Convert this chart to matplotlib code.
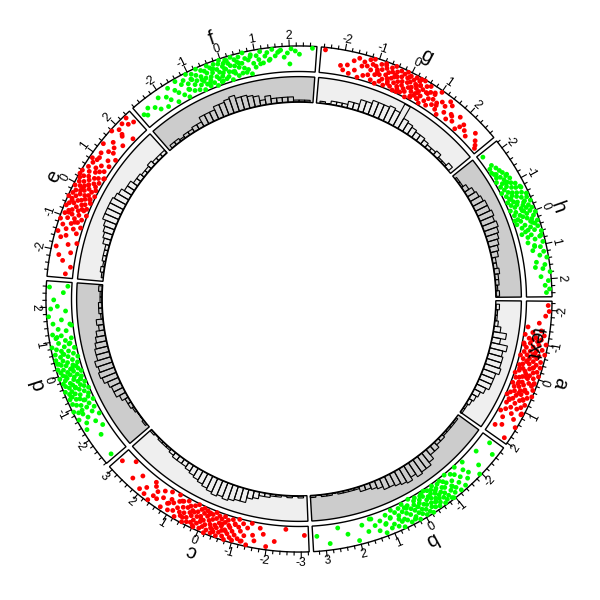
import numpy as np
import matplotlib.pyplot as plt
from matplotlib.patches import Polygon

plt.rcParams['font.family'] = ['Liberation Sans', 'DejaVu Sans']

sectors = ['a', 'b', 'c', 'd', 'e', 'f', 'g', 'h']
point_cols = ['#FF0000', '#00FF00'] * 4
hist_bg = ['#EFEFEF', '#CCCCCC'] * 4

# points of each sector (x ~ rnorm, y ~ runif)
x_a = [-2.14, -1.97, -1.83, -1.61, -1.46, -1.39, -1.31, -1.26, -1.22, -1.17,
       -1.13, -1.12, -1.06, -1.01, -0.98, -0.97, -0.91, -0.88, -0.84, -0.83,
       -0.79, -0.74, -0.72, -0.69, -0.66, -0.65, -0.61, -0.57, -0.56, -0.52,
       -0.49, -0.47, -0.46, -0.41, -0.38, -0.36, -0.33, -0.31, -0.27, -0.26,
       -0.22, -0.19, -0.18, -0.14, -0.12, -0.09, -0.08, -0.05, -0.03, 0.01,
       0.02, 0.06, 0.07, 0.11, 0.14, 0.15, 0.19, 0.22, 0.24, 0.25,
       0.29, 0.33, 0.34, 0.38, 0.41, 0.43, 0.47, 0.48, 0.52, 0.55,
       0.58, 0.61, 0.63, 0.66, 0.69, 0.73, 0.76, 0.78, 0.82, 0.86,
       0.89, 0.93, 0.97, 1.02, 1.05, 1.11, 1.16, 1.21, 1.27, 1.33,
       1.42, 1.51, 1.63, 1.74, 1.92, -0.95, -0.71, -0.44, -0.29, -0.16,
       0.04, 0.17, 0.31, 0.45, 0.57, 0.71, 0.84, 1.08, -1.09, -0.62]
y_a = [0.86, 0.91, 0.78, 0.55, 0.12, 0.67, 0.34, 0.81, 0.05, 0.49,
       0.72, 0.23, 0.58, 0.94, 0.31, 0.66, 0.08, 0.45, 0.83, 0.19,
       0.62, 0.37, 0.97, 0.14, 0.52, 0.76, 0.28, 0.69, 0.03, 0.41,
       0.88, 0.17, 0.59, 0.33, 0.74, 0.46, 0.92, 0.21, 0.64, 0.09,
       0.53, 0.85, 0.27, 0.71, 0.38, 0.15, 0.96, 0.44, 0.61, 0.02,
       0.79, 0.35, 0.57, 0.24, 0.89, 0.11, 0.68, 0.42, 0.82, 0.29,
       0.51, 0.07, 0.93, 0.36, 0.63, 0.18, 0.75, 0.47, 0.99, 0.26,
       0.56, 0.84, 0.13, 0.39, 0.70, 0.04, 0.60, 0.32, 0.87, 0.22,
       0.48, 0.77, 0.16, 0.65, 0.40, 0.90, 0.25, 0.54, 0.10, 0.73,
       0.30, 0.95, 0.43, 0.20, 0.80, 0.06, 0.58, 0.35, 0.67, 0.14,
       0.50, 0.87, 0.28, 0.62, 0.45, 0.73, 0.19, 0.91, 0.37, 0.55]

x_b = [-2.83, -2.61, -2.38, -2.12, -1.95, -1.84, -1.76, -1.69, -1.62, -1.55,
       -1.49, -1.44, -1.40, -1.35, -1.31, -1.26, -1.22, -1.19, -1.15, -1.12,
       -1.08, -1.05, -1.02, -0.99, -0.96, -0.93, -0.91, -0.88, -0.86, -0.83,
       -0.80, -0.78, -0.75, -0.73, -0.70, -0.68, -0.66, -0.63, -0.61, -0.59,
       -0.57, -0.54, -0.52, -0.50, -0.47, -0.45, -0.43, -0.41, -0.38, -0.36,
       -0.34, -0.32, -0.29, -0.27, -0.25, -0.22, -0.20, -0.18, -0.15, -0.13,
       -0.11, -0.08, -0.06, -0.03, -0.01, 0.02, 0.04, 0.07, 0.09, 0.12,
       0.14, 0.17, 0.19, 0.22, 0.25, 0.27, 0.30, 0.33, 0.36, 0.39,
       0.42, 0.45, 0.48, 0.51, 0.55, 0.58, 0.62, 0.66, 0.69, 0.73,
       0.77, 0.81, 0.86, 0.91, 0.96, 1.01, 1.07, 1.13, 1.20, 1.28,
       1.37, 1.46, 1.57, 1.69, 1.84, 2.02, 2.31, 2.58, 2.87, 3.24,
       -1.13, -0.92, -0.64, -0.48, -0.21, 0.05, 0.28, 0.44, 0.67, 0.95,
       1.15, 1.52]
y_b = [0.44, 0.81, 0.23, 0.67, 0.95, 0.12, 0.58, 0.36, 0.73, 0.05,
       0.49, 0.88, 0.27, 0.62, 0.15, 0.91, 0.39, 0.70, 0.02, 0.54,
       0.83, 0.31, 0.66, 0.19, 0.97, 0.42, 0.08, 0.76, 0.35, 0.59,
       0.13, 0.86, 0.47, 0.71, 0.24, 0.93, 0.52, 0.06, 0.64, 0.38,
       0.79, 0.17, 0.55, 0.90, 0.29, 0.68, 0.11, 0.45, 0.84, 0.33,
       0.61, 0.04, 0.75, 0.41, 0.98, 0.21, 0.57, 0.87, 0.14, 0.50,
       0.72, 0.26, 0.92, 0.37, 0.63, 0.09, 0.80, 0.46, 0.18, 0.69,
       0.32, 0.95, 0.53, 0.01, 0.77, 0.40, 0.85, 0.22, 0.60, 0.30,
       0.89, 0.48, 0.07, 0.74, 0.35, 0.65, 0.16, 0.94, 0.43, 0.56,
       0.25, 0.82, 0.10, 0.67, 0.39, 0.78, 0.20, 0.52, 0.88, 0.34,
       0.71, 0.45, 0.13, 0.60, 0.28, 0.85, 0.50, 0.18, 0.75, 0.41,
       0.58, 0.92, 0.30, 0.66, 0.09, 0.47, 0.83, 0.24, 0.70, 0.36,
       0.55, 0.15]

x_c = [-3.10, -2.53, -2.21, -1.98, -1.86, -1.74, -1.62, -1.55, -1.47, -1.41,
       -1.36, -1.30, -1.26, -1.21, -1.17, -1.13, -1.09, -1.06, -1.02, -0.99,
       -0.96, -0.93, -0.90, -0.87, -0.84, -0.81, -0.79, -0.76, -0.73, -0.71,
       -0.68, -0.66, -0.63, -0.61, -0.58, -0.56, -0.53, -0.51, -0.49, -0.46,
       -0.44, -0.41, -0.39, -0.37, -0.34, -0.32, -0.30, -0.27, -0.25, -0.23,
       -0.20, -0.18, -0.16, -0.13, -0.11, -0.09, -0.06, -0.04, -0.02, 0.01,
       0.03, 0.05, 0.08, 0.10, 0.13, 0.15, 0.18, 0.20, 0.23, 0.25,
       0.28, 0.30, 0.33, 0.36, 0.38, 0.41, 0.44, 0.47, 0.50, 0.53,
       0.56, 0.59, 0.62, 0.65, 0.69, 0.72, 0.76, 0.79, 0.83, 0.87,
       0.91, 0.95, 1.00, 1.05, 1.10, 1.15, 1.21, 1.27, 1.34, 1.41,
       1.49, 1.58, 1.68, 1.79, 1.92, 2.06, 2.23, 2.41, 2.68, 2.99,
       -1.23, -0.97, -0.74, -0.59, -0.35, -0.14, 0.06, 0.21, 0.39, 0.57,
       0.80, 1.12, 1.62, 1.71, 1.87]
y_c = [0.35, 0.12, 0.64, 0.88, 0.41, 0.19, 0.73, 0.52, 0.06, 0.95,
       0.28, 0.61, 0.84, 0.15, 0.47, 0.79, 0.33, 0.02, 0.68, 0.91,
       0.24, 0.56, 0.83, 0.10, 0.44, 0.71, 0.37, 0.97, 0.18, 0.59,
       0.86, 0.30, 0.65, 0.08, 0.49, 0.76, 0.22, 0.93, 0.40, 0.62,
       0.13, 0.81, 0.54, 0.27, 0.90, 0.04, 0.70, 0.36, 0.58, 0.17,
       0.85, 0.45, 0.99, 0.21, 0.67, 0.32, 0.78, 0.11, 0.53, 0.89,
       0.26, 0.63, 0.07, 0.43, 0.75, 0.16, 0.94, 0.50, 0.31, 0.69,
       0.03, 0.82, 0.39, 0.57, 0.14, 0.87, 0.48, 0.72, 0.23, 0.96,
       0.34, 0.60, 0.09, 0.77, 0.42, 0.66, 0.20, 0.92, 0.55, 0.29,
       0.74, 0.05, 0.46, 0.83, 0.38, 0.61, 0.12, 0.88, 0.51, 0.25,
       0.70, 0.44, 0.94, 0.18, 0.58, 0.80, 0.33, 0.66, 0.10, 0.47,
       0.86, 0.27, 0.63, 0.40, 0.73, 0.15, 0.52, 0.90, 0.36, 0.79,
       0.22, 0.57, 0.68, 0.31, 0.84]

x_d = [-2.69, -2.05, -1.83, -1.71, -1.62, -1.54, -1.47, -1.41, -1.36, -1.31,
       -1.26, -1.21, -1.17, -1.13, -1.09, -1.05, -1.01, -0.98, -0.95, -0.91,
       -0.88, -0.85, -0.82, -0.79, -0.76, -0.73, -0.71, -0.68, -0.65, -0.63,
       -0.60, -0.58, -0.55, -0.53, -0.50, -0.48, -0.45, -0.43, -0.41, -0.38,
       -0.36, -0.33, -0.31, -0.29, -0.26, -0.24, -0.22, -0.19, -0.17, -0.15,
       -0.12, -0.10, -0.08, -0.05, -0.03, -0.01, 0.02, 0.04, 0.07, 0.09,
       0.11, 0.14, 0.16, 0.19, 0.21, 0.24, 0.26, 0.29, 0.32, 0.34,
       0.37, 0.40, 0.43, 0.46, 0.49, 0.52, 0.55, 0.58, 0.62, 0.65,
       0.69, 0.72, 0.76, 0.80, 0.84, 0.88, 0.93, 0.98, 1.03, 1.08,
       1.14, 1.20, 1.27, 1.34, 1.42, 1.51, 1.61, 1.73, 1.87, 2.02,
       2.21, 2.43, 2.58, 2.63, -1.15, -0.90, -0.67, -0.47, -0.27, -0.06,
       0.13, 0.35, 0.60, 0.86, 1.11, 1.46, 1.95]
y_d = [0.63, 0.48, 0.21, 0.85, 0.37, 0.72, 0.09, 0.56, 0.93, 0.30,
       0.68, 0.14, 0.81, 0.42, 0.97, 0.26, 0.59, 0.04, 0.75, 0.35,
       0.88, 0.18, 0.52, 0.66, 0.11, 0.90, 0.44, 0.77, 0.23, 0.61,
       0.02, 0.83, 0.39, 0.70, 0.16, 0.95, 0.50, 0.28, 0.74, 0.07,
       0.57, 0.86, 0.33, 0.64, 0.19, 0.91, 0.46, 0.12, 0.79, 0.40,
       0.69, 0.25, 0.98, 0.53, 0.06, 0.82, 0.36, 0.60, 0.15, 0.87,
       0.45, 0.73, 0.20, 0.94, 0.31, 0.58, 0.10, 0.76, 0.49, 0.84,
       0.27, 0.65, 0.03, 0.92, 0.41, 0.71, 0.17, 0.55, 0.89, 0.34,
       0.62, 0.08, 0.80, 0.47, 0.96, 0.22, 0.67, 0.38, 0.13, 0.74,
       0.51, 0.85, 0.29, 0.60, 0.05, 0.78, 0.43, 0.93, 0.24, 0.56,
       0.70, 0.32, 0.88, 0.15, 0.64, 0.40, 0.81, 0.52, 0.19, 0.72,
       0.36, 0.90, 0.58, 0.26, 0.69, 0.11, 0.83]

x_e = [-2.67, -2.45, -2.28, -2.13, -2.01, -1.90, -1.78, -1.69, -1.61, -1.53,
       -1.46, -1.40, -1.34, -1.29, -1.24, -1.19, -1.15, -1.10, -1.06, -1.02,
       -0.98, -0.95, -0.91, -0.88, -0.84, -0.81, -0.78, -0.75, -0.72, -0.69,
       -0.66, -0.63, -0.60, -0.58, -0.55, -0.52, -0.50, -0.47, -0.44, -0.42,
       -0.39, -0.37, -0.34, -0.32, -0.29, -0.27, -0.24, -0.22, -0.19, -0.17,
       -0.14, -0.12, -0.09, -0.07, -0.04, -0.02, 0.01, 0.03, 0.06, 0.08,
       0.11, 0.14, 0.16, 0.19, 0.22, 0.25, 0.28, 0.31, 0.34, 0.37,
       0.40, 0.43, 0.47, 0.50, 0.54, 0.58, 0.62, 0.66, 0.70, 0.75,
       0.80, 0.85, 0.91, 0.97, 1.04, 1.11, 1.19, 1.27, 1.36, 1.46,
       1.57, 1.68, 1.79, 1.88, 1.96, 2.05, 2.14, 2.26, 2.34, 2.42,
       -1.08, -0.86, -0.64, -0.45, -0.26, -0.05, 0.12, 0.29, 0.52, 0.88,
       1.32, 1.92]
y_e = [0.29, 0.12, 0.47, 0.66, 0.21, 0.83, 0.38, 0.05, 0.74, 0.55,
       0.91, 0.17, 0.62, 0.34, 0.80, 0.08, 0.49, 0.96, 0.26, 0.70,
       0.43, 0.14, 0.87, 0.58, 0.31, 0.76, 0.02, 0.64, 0.40, 0.93,
       0.19, 0.53, 0.85, 0.11, 0.68, 0.36, 0.79, 0.24, 0.57, 0.98,
       0.45, 0.07, 0.72, 0.33, 0.89, 0.16, 0.60, 0.41, 0.82, 0.27,
       0.65, 0.03, 0.51, 0.94, 0.22, 0.75, 0.37, 0.59, 0.10, 0.86,
       0.46, 0.69, 0.18, 0.92, 0.30, 0.54, 0.81, 0.13, 0.63, 0.39,
       0.97, 0.25, 0.71, 0.06, 0.48, 0.84, 0.35, 0.56, 0.20, 0.78,
       0.42, 0.90, 0.15, 0.67, 0.32, 0.73, 0.09, 0.52, 0.88, 0.44,
       0.61, 0.23, 0.95, 0.50, 0.77, 0.12, 0.85, 0.66, 0.90, 0.58,
       0.37, 0.73, 0.28, 0.82, 0.14, 0.61, 0.46, 0.99, 0.04, 0.70,
       0.33, 0.56]

x_f = [-2.72, -2.64, -2.51, -2.33, -2.21, -2.09, -1.98, -1.88, -1.80, -1.71,
       -1.63, -1.56, -1.49, -1.43, -1.37, -1.31, -1.26, -1.21, -1.16, -1.12,
       -1.07, -1.03, -0.99, -0.95, -0.92, -0.88, -0.85, -0.81, -0.78, -0.75,
       -0.72, -0.69, -0.66, -0.63, -0.60, -0.57, -0.54, -0.52, -0.49, -0.46,
       -0.43, -0.41, -0.38, -0.36, -0.33, -0.30, -0.28, -0.25, -0.23, -0.20,
       -0.18, -0.15, -0.13, -0.10, -0.08, -0.05, -0.03, 0.00, 0.02, 0.05,
       0.07, 0.10, 0.12, 0.15, 0.18, 0.20, 0.23, 0.26, 0.29, 0.32,
       0.35, 0.38, 0.41, 0.44, 0.47, 0.51, 0.54, 0.58, 0.62, 0.65,
       0.69, 0.73, 0.78, 0.82, 0.87, 0.92, 0.97, 1.03, 1.09, 1.15,
       1.21, 1.28, 1.35, 1.42, 1.50, 1.58, 1.66, 1.75, 1.84, 1.94,
       2.05, 2.17, 2.29, 2.66, -1.18, -0.97, -0.70, -0.50, -0.31, -0.11,
       0.04, 0.16, 0.31, 0.49, 0.67, 0.85, 1.12, 1.39, 1.71, 2.00]
y_f = [0.52, 0.41, 0.63, 0.47, 0.28, 0.71, 0.19, 0.55, 0.36, 0.82,
       0.13, 0.60, 0.44, 0.90, 0.25, 0.67, 0.08, 0.78, 0.34, 0.57,
       0.95, 0.21, 0.69, 0.42, 0.86, 0.15, 0.53, 0.74, 0.30, 0.97,
       0.06, 0.61, 0.39, 0.84, 0.23, 0.48, 0.76, 0.11, 0.65, 0.33,
       0.92, 0.45, 0.18, 0.80, 0.58, 0.02, 0.72, 0.37, 0.88, 0.26,
       0.64, 0.10, 0.50, 0.83, 0.31, 0.96, 0.43, 0.68, 0.16, 0.79,
       0.54, 0.22, 0.89, 0.40, 0.73, 0.05, 0.62, 0.35, 0.94, 0.27,
       0.56, 0.81, 0.14, 0.70, 0.46, 0.87, 0.20, 0.59, 0.38, 0.99,
       0.75, 0.29, 0.66, 0.09, 0.85, 0.49, 0.32, 0.77, 0.60, 0.91,
       0.44, 0.70, 0.83, 0.55, 0.93, 0.66, 0.79, 0.87, 0.58, 0.74,
       0.90, 0.81, 0.68, 0.93, 0.37, 0.65, 0.48, 0.24, 0.71, 0.12,
       0.57, 0.86, 0.35, 0.63, 0.19, 0.78, 0.42, 0.51, 0.84, 0.30]

x_g = [-2.56, -2.06, -1.97, -1.86, -1.78, -1.69, -1.62, -1.55, -1.49, -1.43,
       -1.38, -1.33, -1.28, -1.23, -1.19, -1.15, -1.11, -1.07, -1.03, -0.99,
       -0.96, -0.92, -0.89, -0.86, -0.83, -0.80, -0.77, -0.74, -0.71, -0.68,
       -0.65, -0.62, -0.60, -0.57, -0.54, -0.52, -0.49, -0.47, -0.44, -0.42,
       -0.39, -0.37, -0.34, -0.32, -0.29, -0.27, -0.24, -0.22, -0.20, -0.17,
       -0.15, -0.12, -0.10, -0.08, -0.05, -0.03, 0.00, 0.02, 0.04, 0.07,
       0.09, 0.12, 0.14, 0.17, 0.19, 0.22, 0.24, 0.27, 0.30, 0.32,
       0.35, 0.38, 0.41, 0.44, 0.47, 0.50, 0.53, 0.56, 0.59, 0.63,
       0.66, 0.70, 0.74, 0.78, 0.82, 0.86, 0.91, 0.96, 1.01, 1.06,
       1.12, 1.18, 1.25, 1.32, 1.40, 1.48, 1.57, 1.66, 1.76, 1.87,
       1.98, 2.10, 2.23, 2.37, 2.52, 2.68, 2.84, 2.78, -1.13, -0.94,
       -0.75, -0.56, -0.41, -0.19, -0.01, 0.16, 0.33, 0.49, 0.68, 0.88,
       1.09, 1.37, 1.61, 2.05, 0.26, 0.28, 0.31, 0.36, 0.39, 0.42,
       0.27]
y_g = [0.91, 0.38, 0.22, 0.45, 0.13, 0.67, 0.31, 0.82, 0.06, 0.54,
       0.73, 0.19, 0.60, 0.88, 0.27, 0.49, 0.95, 0.11, 0.70, 0.36,
       0.58, 0.03, 0.84, 0.42, 0.65, 0.17, 0.93, 0.29, 0.76, 0.50,
       0.08, 0.63, 0.39, 0.86, 0.21, 0.71, 0.46, 0.98, 0.14, 0.55,
       0.79, 0.33, 0.61, 0.04, 0.89, 0.44, 0.25, 0.68, 0.16, 0.83,
       0.52, 0.37, 0.96, 0.10, 0.74, 0.28, 0.57, 0.87, 0.20, 0.64,
       0.41, 0.01, 0.78, 0.48, 0.92, 0.32, 0.66, 0.12, 0.85, 0.53,
       0.24, 0.72, 0.40, 0.97, 0.18, 0.62, 0.35, 0.81, 0.07, 0.59,
       0.90, 0.26, 0.69, 0.43, 0.15, 0.77, 0.51, 0.30, 0.94, 0.47,
       0.22, 0.63, 0.09, 0.56, 0.34, 0.75, 0.18, 0.42, 0.27, 0.61,
       0.12, 0.48, 0.33, 0.20, 0.57, 0.36, 0.14, 0.24, 0.73, 0.50,
       0.87, 0.29, 0.64, 0.05, 0.80, 0.45, 0.95, 0.19, 0.58, 0.71,
       0.38, 0.84, 0.46, 0.31, 0.15, 0.62, 0.88, 0.33, 0.71, 0.47,
       0.09]

x_h = [-2.12, -1.76, -1.69, -1.62, -1.56, -1.50, -1.45, -1.40, -1.35, -1.31,
       -1.27, -1.23, -1.19, -1.15, -1.11, -1.08, -1.04, -1.01, -0.97, -0.94,
       -0.91, -0.88, -0.85, -0.82, -0.79, -0.76, -0.73, -0.70, -0.67, -0.65,
       -0.62, -0.59, -0.57, -0.54, -0.51, -0.49, -0.46, -0.44, -0.41, -0.39,
       -0.36, -0.34, -0.31, -0.29, -0.26, -0.24, -0.21, -0.19, -0.16, -0.14,
       -0.11, -0.09, -0.06, -0.04, -0.01, 0.01, 0.04, 0.06, 0.09, 0.12,
       0.14, 0.17, 0.20, 0.23, 0.26, 0.29, 0.32, 0.35, 0.38, 0.42,
       0.45, 0.49, 0.53, 0.57, 0.61, 0.65, 0.70, 0.75, 0.80, 0.86,
       0.92, 0.98, 1.05, 1.12, 1.20, 1.29, 1.38, 1.48, 1.58, 1.69,
       1.80, 1.92, 2.05, 2.18, 2.29, 2.39, -1.48, -1.29, -1.06, -0.80,
       -0.56, -0.33, -0.12, 0.10, 0.31, 0.52, 0.73, 1.01, 1.63]
y_h = [0.18, 0.26, 0.12, 0.35, 0.09, 0.41, 0.22, 0.47, 0.15, 0.30,
       0.52, 0.06, 0.38, 0.61, 0.24, 0.44, 0.11, 0.56, 0.33, 0.70,
       0.19, 0.49, 0.03, 0.64, 0.28, 0.83, 0.42, 0.14, 0.58, 0.36,
       0.76, 0.21, 0.51, 0.92, 0.08, 0.67, 0.31, 0.87, 0.45, 0.16,
       0.73, 0.39, 0.95, 0.27, 0.60, 0.05, 0.81, 0.48, 0.69, 0.23,
       0.90, 0.54, 0.13, 0.78, 0.34, 0.62, 0.97, 0.43, 0.20, 0.85,
       0.57, 0.29, 0.74, 0.10, 0.66, 0.93, 0.40, 0.80, 0.25, 0.59,
       0.88, 0.46, 0.71, 0.17, 0.96, 0.53, 0.37, 0.84, 0.63, 0.32,
       0.91, 0.55, 0.77, 0.44, 0.86, 0.68, 0.94, 0.50, 0.82, 0.72,
       0.99, 0.61, 0.89, 0.75, 0.92, 0.79, 0.15, 0.58, 0.38, 0.81,
       0.26, 0.67, 0.49, 0.07, 0.72, 0.34, 0.90, 0.55, 0.43]

xs = {'a': x_a, 'b': x_b, 'c': x_c, 'd': x_d, 'e': x_e, 'f': x_f, 'g': x_g, 'h': x_h}
ys = {'a': y_a, 'b': y_b, 'c': y_c, 'd': y_d, 'e': y_e, 'f': y_f, 'g': y_g, 'h': y_h}

bin_size = 0.2
note_sector, note_x, note_y, note_text = 'a', -1, 0.5, 'text'

# layout (circlize-like)
gap = 1.0
R = 255.6
track1 = (0.89 * R, 0.99 * R)
track2 = (0.77 * R, 0.87 * R)

fig = plt.figure(figsize=(6, 6), dpi=100)
ax = fig.add_axes([0, 0, 1, 1])
ax.set_xlim(-299, 301)
ax.set_ylim(-301, 299)
ax.set_aspect('equal')
ax.axis('off')


def xy(theta, r):
    t = np.deg2rad(theta)
    return r * np.cos(t), r * np.sin(t)


def band(th1, th2, r1, r2, **kw):
    t = np.linspace(th1, th2, max(int(abs(th2 - th1) * 3), 2))
    ox, oy = xy(t, r2)
    ix, iy = xy(t[::-1], r1)
    pts = np.column_stack([np.concatenate([ox, ix]), np.concatenate([oy, iy])])
    ax.add_patch(Polygon(pts, closed=True, **kw))


ranges = {s: max(xs[s]) - min(xs[s]) for s in sectors}
u = sum(ranges.values()) / (360 - 8 * gap - 16)  # x units per degree
pad = u

# histogram counts
hists = {}
for s in sectors:
    edges = np.arange(min(xs[s]), max(xs[s]) + bin_size, bin_size)
    cnt, edges = np.histogram(xs[s], bins=edges)
    hists[s] = (cnt, edges)
hmax = max(h[0].max() for h in hists.values())
hylim = (-0.02 * hmax, 1.02 * hmax)

all_y = sum((ys[s] for s in sectors), [])
yr = max(all_y) - min(all_y)
ylim1 = (min(all_y) - 0.02 * yr, max(all_y) + 0.02 * yr)


def rmap(v, lim, tr):
    return tr[0] + (np.asarray(v) - lim[0]) / (lim[1] - lim[0]) * (tr[1] - tr[0])


th = -gap / 2
for i, s in enumerate(sectors):
    xlo, xhi = min(xs[s]) - pad, max(xs[s]) + pad
    th_start = th
    th_end = th_start - (xhi - xlo) / u

    def ang(x, xlo=xlo, th_start=th_start):
        return th_start - (np.asarray(x) - xlo) / u

    # track 1: points
    band(th_end, th_start, track1[0], track1[1], facecolor='white',
         edgecolor='black', lw=1.0, zorder=1)
    n = min(len(xs[s]), len(ys[s]))
    px, py = xy(ang(xs[s][:n]), rmap(ys[s][:n], ylim1, track1))
    ax.scatter(px, py, s=12, color=point_cols[i], edgecolors='none', zorder=3)

    # axis on top of track 1
    for v in np.arange(np.ceil(xlo / 0.2) * 0.2, xhi + 1e-9, 0.2):
        major = abs(v - round(v)) < 1e-6
        ln = 6 if major else 3
        a = ang(v)
        x0, y0 = xy(a, track1[1])
        x1, y1 = xy(a, track1[1] + ln)
        ax.plot([x0, x1], [y0, y1], color='black', lw=0.8, zorder=2)
        if major:
            lx, ly = xy(a, track1[1] + 10.5)
            am = a % 360
            rot = am - 90 if am <= 180 else am + 90
            ax.text(lx, ly, str(int(round(v))), fontsize=8.7, rotation=rot,
                    rotation_mode='anchor', ha='center', va='center')

    # sector name
    xc = (xlo + xhi) / 2
    lx, ly = xy(ang(xc), track1[1] + 21)
    ax.text(lx, ly, s, fontsize=14.5, rotation=ang(xc) - 90,
            rotation_mode='anchor', ha='center', va='center')

    # track 2: histogram
    band(th_end, th_start, track2[0], track2[1], facecolor=hist_bg[i],
         edgecolor='black', lw=1.0, zorder=1)
    cnt, edges = hists[s]
    r0 = rmap(0, hylim, track2)
    for k in range(len(cnt)):
        r1 = rmap(cnt[k], hylim, track2)
        band(ang(edges[k + 1]), ang(edges[k]), r0, r1, facecolor='none',
             edgecolor='black', lw=0.8, zorder=2)

    if s == note_sector:
        a = ang(note_x)
        lx, ly = xy(a, rmap(note_y, ylim1, track1))
        ax.text(lx, ly, note_text, fontsize=14.5, rotation=a - 90,
                rotation_mode='anchor', ha='center', va='center', zorder=4)

    th = th_end - gap

fig.savefig('out.png', dpi=100)
